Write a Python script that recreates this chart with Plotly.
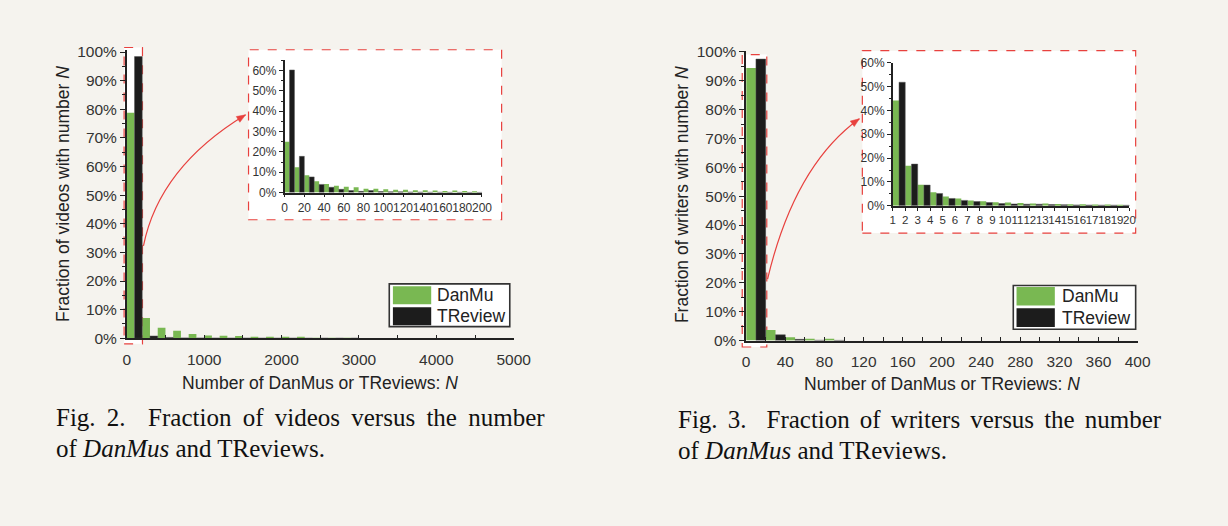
import plotly.graph_objects as go

W, H = 1228, 526

# ---------------- data ----------------
# Fig. 2 main (videos), bin width 200
v_bins = [0, 200, 400, 600, 800, 1000, 1200, 1400, 1600, 1800, 2000, 2200, 2400, 2600, 2800]
v_danmu = [78.8, 7.1, 3.7, 2.6, 1.5, 1.0, 0.9, 0.8, 0.55, 0.5, 0.45, 0.2, 0.15, 0.1, 0.08]
v_treview = [98.4, 0.8, 0.3, 0.12, 0.08, 0.05, 0.04, 0.03, 0.02, 0.02, 0.02, 0.01, 0.01, 0.01, 0.01]
# Fig. 2 inset, bin width 10
vi_bins = [0, 10, 20, 30, 40, 50, 60, 70, 80, 90, 100, 110, 120, 130, 140, 150, 160, 170, 180, 190]
vi_danmu = [25.0, 12.5, 8.5, 5.6, 4.2, 3.4, 2.9, 2.6, 1.9, 1.9, 1.6, 1.4, 1.4, 1.1, 1.1, 1.0, 0.8, 1.0, 0.8, 0.6]
vi_treview = [60.3, 17.8, 7.7, 4.0, 2.6, 1.6, 1.0, 0.6, 1.0, 0.5, 0.4, 0.35, 0.3, 0.25, 0.2, 0.2, 0.15, 0.15, 0.1, 0.1]
# Fig. 3 main (writers), bin width 20
w_bins = [0, 20, 40, 60, 80]
w_danmu = [94.4, 3.6, 1.1, 0.5, 0.3]
w_treview = [97.5, 2.0, 0.4, 0.1, 0.05]
# Fig. 3 inset, N = 1..19
wi_bins = list(range(1, 20))
wi_danmu = [44.2, 16.8, 8.8, 5.7, 3.9, 3.1, 2.2, 1.9, 1.5, 1.36, 1.2, 0.95, 0.95, 0.8, 0.7, 0.65, 0.6, 0.55, 0.5]
wi_treview = [51.8, 17.5, 8.7, 5.2, 3.1, 2.3, 1.8, 1.4, 0.95, 0.8, 0.7, 0.7, 0.55, 0.5, 0.4, 0.35, 0.3, 0.3, 0.25]
wi_ticks = list(range(1, 21))

GREEN = "#79b852"
BLACK = "#1c1c1c"
RED = "#e8413e"
BG = "#f5f3ee"
TXT = "#333333"
SANS = "Liberation Sans"
SERIF = "Liberation Serif"


def X(px):
    return px / W


def Y(py):
    return 1 - py / H


fig = go.Figure()

def add_bars(xs, g, b, width, xa, ya):
    fig.add_trace(go.Bar(x=xs, y=g, width=width, offset=0, marker=dict(color=GREEN, line=dict(width=0)),
                         xaxis=xa, yaxis=ya, showlegend=False, name="DanMu"))
    fig.add_trace(go.Bar(x=xs, y=b, width=width, offset=width, marker=dict(color=BLACK, line=dict(width=0.5, color="#555")),
                         xaxis=xa, yaxis=ya, showlegend=False, name="TReview"))

add_bars(v_bins, v_danmu, v_treview, 100, "x", "y")
add_bars(vi_bins, vi_danmu, vi_treview, 5, "x2", "y2")
add_bars(w_bins, w_danmu, w_treview, 10, "x3", "y3")
add_bars(wi_bins, wi_danmu, wi_treview, 0.5, "x4", "y4")

axis_common = dict(showline=True, linecolor="#222", linewidth=1.5, showgrid=False, zeroline=False,
                   tickcolor="#222", tickwidth=1.2)

def xax(domain, rng, dtick, minor, ticks, size, anchor, ticklen=4, **kw):
    d = dict(axis_common, domain=domain, range=rng, dtick=dtick, ticks=ticks, ticklen=ticklen, tickangle=0,
             tickfont=dict(family=SANS, size=size, color=TXT), anchor=anchor)
    if minor:
        d["minor"] = dict(dtick=minor, ticks=ticks, ticklen=ticklen, tickcolor="#222", showgrid=False)
    d.update(kw)
    return d

def yax(domain, rng, dtick, minor, size, anchor, ticklen=5, mlen=3):
    return dict(axis_common, domain=domain, range=rng, dtick=dtick, ticks="outside", ticklen=ticklen,
                ticksuffix="%", tickfont=dict(family=SANS, size=size, color=TXT), anchor=anchor,
                minor=dict(dtick=minor, ticks="outside", ticklen=mlen, tickcolor="#222", showgrid=False))

layout = dict(
    width=W, height=H, margin=dict(l=0, r=0, t=0, b=0),
    paper_bgcolor=BG, plot_bgcolor="rgba(0,0,0,0)", barmode="overlay", showlegend=False,
    xaxis=xax([X(125), X(519)], [0, 5000], 1000, 500, "inside", 15.5, "y", ticklabelstandoff=6),
    yaxis=yax([Y(341), Y(44)], [0, 100.8], 10, 5, 15.5, "x"),
    xaxis2=xax([X(285.7), X(486.7)], [0, 200], 20, None, "outside", 12, "y2", ticklen=3),
    yaxis2=yax([Y(191), Y(55)], [0, 65], 10, 5, 12, "x2", ticklen=4, mlen=2),
    xaxis3=xax([X(755.7), X(1154.3)], [0, 400], 40, 20, "inside", 15.5, "y3", ticklabelstandoff=6),
    yaxis3=yax([Y(343.3), Y(45)], [0, 100.4], 10, 5, 15.5, "x3"),
    xaxis4=xax([X(905), X(1146)], [1, 20], None, None, "outside", 11.5, "y4", ticklen=3,
               tickmode="array", tickvals=wi_ticks, ticktext=[str(t) for t in wi_ticks]),
    yaxis4=yax([Y(204.7), Y(57.3)], [0, 60], 10, 5, 12, "x4", ticklen=4, mlen=2),
)
fig.update_layout(**layout)

shapes = []
def rect(x0, y0, x1, y1, fill="white", layer="below"):
    shapes.append(dict(type="rect", xref="paper", yref="paper", x0=X(x0), x1=X(x1), y0=Y(y1), y1=Y(y0),
                       fillcolor=fill, line=dict(color=RED, width=1.2, dash="dash"), layer=layer))

rect(249, 44, 506.7, 219)
rect(874, 45, 1152.3, 232.7)
rect(122.3, 41.7, 141, 346.7)
rect(751.7, 49, 776.7, 350)

def arrow(p0, c, p1):
    shapes.append(dict(type="path", xref="paper", yref="paper",
                       path=f"M {X(p0[0])},{Y(p0[1])} Q {X(c[0])},{Y(c[1])} {X(p1[0])},{Y(p1[1])}",
                       line=dict(color=RED, width=1.2), layer="above"))
    dx, dy = p1[0] - c[0], p1[1] - c[1]
    n = (dx * dx + dy * dy) ** 0.5
    ux, uy = dx / n, dy / n
    L, hw = 9, 3.5
    bx, by = p1[0] - ux * L, p1[1] - uy * L
    a = (bx - uy * hw, by + ux * hw)
    b = (bx + uy * hw, by - ux * hw)
    shapes.append(dict(type="path", xref="paper", yref="paper",
                       path=f"M {X(p1[0])},{Y(p1[1])} L {X(a[0])},{Y(a[1])} L {X(b[0])},{Y(b[1])} Z",
                       fillcolor=RED, line=dict(color=RED, width=0.5), layer="above"))

arrow((142, 246), (158, 165), (246, 111))
arrow((777.5, 280), (805, 163), (871, 115))

annotations = []

def legend(x0, y0, x1, y1, sx0, sx1, g0, g1, b0, b1, tx):
    shapes.append(dict(type="rect", xref="paper", yref="paper", x0=X(x0), x1=X(x1), y0=Y(y1), y1=Y(y0),
                       fillcolor="white", line=dict(color="#333", width=1.6), layer="above"))
    shapes.append(dict(type="rect", xref="paper", yref="paper", x0=X(sx0), x1=X(sx1), y0=Y(g1), y1=Y(g0),
                       fillcolor=GREEN, line=dict(width=0), layer="above"))
    shapes.append(dict(type="rect", xref="paper", yref="paper", x0=X(sx0), x1=X(sx1), y0=Y(b1), y1=Y(b0),
                       fillcolor=BLACK, line=dict(width=0), layer="above"))
    for txt, yc in (("DanMu", (g0 + g1) / 2), ("TReview", (b0 + b1) / 2)):
        annotations.append(dict(text=txt, xref="paper", yref="paper", x=X(tx), y=Y(yc), xanchor="left",
                                yanchor="middle", showarrow=False, font=dict(family=SANS, size=17.5, color="#222")))

legend(392.3, 285, 515, 329, 396, 435, 287.5, 306, 309, 327.5, 439)
legend(1027.7, 286.7, 1152.3, 331.7, 1031, 1070, 288.3, 307.3, 310, 329.3, 1075)

def label(text, x, y, size=17.5, angle=0, font=SANS, color="#222", xanchor="center"):
    annotations.append(dict(text=text, xref="paper", yref="paper", x=X(x), y=Y(y), xanchor=xanchor,
                            yanchor="middle", showarrow=False, textangle=angle,
                            font=dict(family=font, size=size, color=color)))

label("Number of DanMus or TReviews: <i>N</i>", 322, 387)
label("Number of DanMus or TReviews: <i>N</i>", 955, 388)
label("Fraction of videos with number <i>N</i>", 59.5, 192, angle=-90)
label("Fraction of writers with number <i>N</i>", 691, 193, angle=-90)

CAP = 25
label('<span style="word-spacing:5px">Fig. 2.&nbsp; Fraction of videos versus the number</span>', 51, 422.5,
      size=CAP, font=SERIF, xanchor="left", color="#111")
label("of <i>DanMus</i> and TReviews.", 51, 454.5, size=CAP, font=SERIF, xanchor="left", color="#111")
label('<span style="word-spacing:3.8px">Fig. 3.&nbsp; Fraction of writers versus the number</span>', 684, 425,
      size=CAP, font=SERIF, xanchor="left", color="#111")
label("of <i>DanMus</i> and TReviews.", 684, 456.5, size=CAP, font=SERIF, xanchor="left", color="#111")

fig.update_layout(shapes=shapes, annotations=annotations)

post = (
    "var h=document.documentElement,b=document.body;"
    "h.style.margin='0';h.style.padding='0';h.style.overflow='hidden';"
    "b.style.margin='0';b.style.padding='0';b.style.overflow='hidden';"
    "var gd=document.getElementById('{plot_id}');"
    "gd.style.position='fixed';gd.style.left='0px';gd.style.top='0px';"
)
fig.write_html("out.html", post_script=post)
